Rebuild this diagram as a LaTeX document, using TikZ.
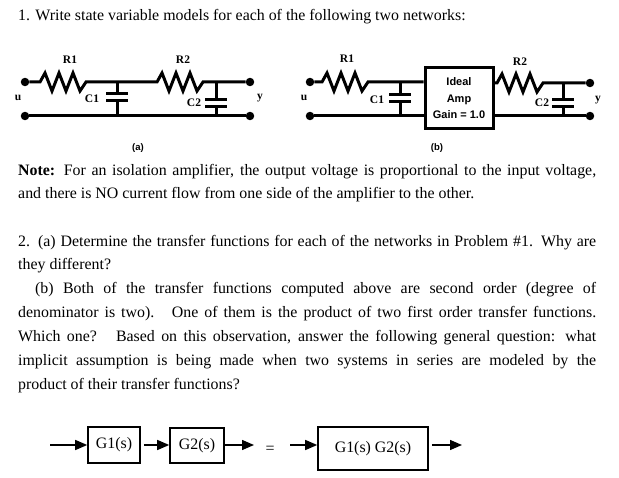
\documentclass[tikz,border=0pt]{standalone}
\usepackage{fontspec}
\setmainfont{Liberation Serif}
\setsansfont{Liberation Sans}
\usetikzlibrary{arrows.meta}
\begin{document}
\begin{tikzpicture}[x=1pt,y=-1pt,
  wire/.style={line width=3pt},
  term/.style={circle,fill,inner sep=3pt},
  lbl/.style={font=\fontsize{11.5}{11}\selectfont\bfseries},
  txt/.style={anchor=base west,inner sep=0,font=\fontsize{15.9}{18}\selectfont},
  blk/.style={draw,line width=1.6pt,font=\fontsize{15.9}{18}\selectfont},
  arr/.style={line width=1.4pt,-{Triangle[length=12pt,width=10pt]}}]
\useasboundingbox (0,0) rectangle (619,478);
\newcommand{\jl}[1]{\makebox[578pt][s]{#1}}
\node[txt] (t1) at (18,21) {1. Write state variable models for each of the following two networks:};
\node[txt] (t2) at (18,176) {\jl{\textbf{Note:} For an isolation amplifier, the output voltage is proportional to the input voltage,}};
\node[txt] (t3) at (18,199) {and there is NO current flow from one side of the amplifier to the other.};
\node[txt] (t4) at (18,247) {\jl{2. (a) Determine the transfer functions for each of the networks in Problem \#1. Why are}};
\node[txt] (t5) at (18,270) {they different?};
\node[txt] (t6) at (18,294) {\makebox[578pt][s]{\hspace{17pt}(b) Both of the transfer functions computed above are second order (degree of}};
\node[txt] (t7) at (18,318) {\jl{denominator is two). \ One of them is the product of two first order transfer functions.}};
\node[txt] (t8) at (18,342) {\jl{Which one? \ Based on this observation, answer the following general question: what}};
\node[txt] (t9) at (18,366) {\jl{implicit assumption is being made when two systems in series are modeled by the}};
\node[txt] (t10) at (18,390) {product of their transfer functions?};
% circuit a
\node[term] (a1) at (25,82) {};
\node[term] (a2) at (25,116) {};
\node[term] (a3) at (250,82) {};
\node[term] (a4) at (250,116) {};
\coordinate (ar1s) at (40,82); \coordinate (ar1e) at (92,82);
\coordinate (ar2s) at (157,82); \coordinate (ar2e) at (210,82);
\draw[wire] (a1) -- (ar1s) -- ++(5,-9) -- ++(7,18) -- ++(7,-18) -- ++(7,18) -- ++(7,-18) -- ++(7,18) -- ++(6,-9) -- (ar1e) -- (ar2s)
  -- ++(5,-9) -- ++(7,18) -- ++(7,-18) -- ++(7,18) -- ++(7,-18) -- ++(7,18) -- ++(6,-9) -- (ar2e) -- (a3);
\draw[wire] (a2) -- (a4);
\draw[wire] (117,82) -- (117,94) (106,94) -- (128,94) (106,101) -- (128,101) (117,101) -- (117,116);
\draw[wire] (216,82) -- (216,100) (205,100) -- (227,100) (205,107) -- (227,107) (216,107) -- (216,116);
\node[lbl] at (70,60) {R1};
\node[lbl] at (183,60) {R2};
\node[lbl] at (92,99) {C1};
\node[lbl] at (194,103) {C2};
\node[lbl] at (18,98) {u};
\node[lbl] at (260,98) {y};
\node[font=\sffamily\bfseries\fontsize{9.5}{9}\selectfont] at (138,148) {(a)};
% circuit b
\node[term] (b1) at (310,82) {};
\node[term] (b2) at (310,116) {};
\node[term] (b3) at (590,83) {};
\node[term] (b4) at (590,116) {};
\node[draw,line width=3pt,minimum width=68pt,minimum height=61pt,align=center,inner sep=0,
  font=\sffamily\bfseries\fontsize{11}{16.5}\selectfont] (amp) at (459,98.5) {Ideal\\Amp\\Gain = 1.0};
\draw[wire] (b1) -- (322,82) -- ++(5,-9) -- ++(7,18) -- ++(7,-18) -- ++(7,18) -- ++(7,-18) -- ++(7,18) -- ++(6,-9) -- (amp.west |- 0,82);
\draw[wire] (amp.east |- 0,83) -- (497,83) -- ++(5,-9) -- ++(7,18) -- ++(7,-18) -- ++(7,18) -- ++(7,-18) -- ++(7,18) -- ++(6,-9) -- (b3);
\draw[wire] (b2) -- (amp.west |- 0,116) (amp.east |- 0,116) -- (b4);
\draw[wire] (400,82) -- (400,95) (389,95) -- (411,95) (389,102) -- (411,102) (400,102) -- (400,116);
\draw[wire] (563,83) -- (563,100) (552,100) -- (574,100) (552,107) -- (574,107) (563,107) -- (563,116);
\node[lbl] at (347,59) {R1};
\node[lbl] at (520,62) {R2};
\node[lbl] at (377,100) {C1};
\node[lbl] at (542,103) {C2};
\node[lbl] at (304,98) {u};
\node[lbl] at (598,100) {y};
\node[font=\sffamily\bfseries\fontsize{9.5}{9}\selectfont] at (437,148) {(b)};
% block diagram
\node[blk,minimum width=52pt,minimum height=36pt] (g1) at (114,445) {G1(s)};
\node[blk,minimum width=54pt,minimum height=35pt] (g2) at (197,445.5) {G2(s)};
\node[font=\fontsize{15.9}{18}\selectfont] (eq) at (270,450) {=};
\node[blk,minimum width=110pt,minimum height=43pt] (g3) at (373,448.5) {G1(s) G2(s)};
\coordinate (i1) at (50,445);
\coordinate (i2) at (290,445);
\coordinate (o2) at (254,445);
\coordinate (o3) at (462,445);
\draw[arr] (i1) -- (g1.west |- i1);
\draw[arr] (g1.east |- i1) ++(3,0) -- (g2.west |- i1);
\draw[arr] (g2.east |- i1) -- (o2);
\draw[arr] (i2) -- (g3.west |- i2);
\draw[arr] (g3.east |- i2) ++(3,0) -- (o3);
\end{tikzpicture}
\end{document}
